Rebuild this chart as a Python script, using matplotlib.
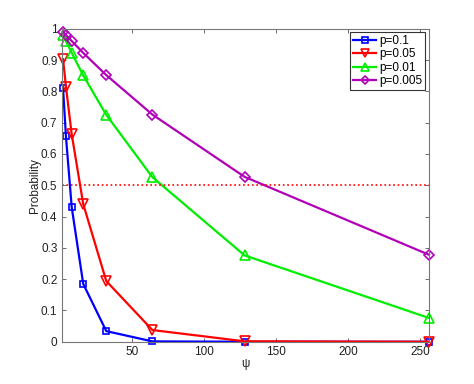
import matplotlib
matplotlib.use("Agg")
import matplotlib.pyplot as plt

psi = [2, 4, 8, 16, 32, 64, 128, 256]
p01 = [0.81, 0.656, 0.430, 0.185, 0.034, 0.0012, 0.0, 0.0]
p005 = [0.9025, 0.815, 0.663, 0.440, 0.194, 0.0375, 0.0014, 0.0]
p001 = [0.980, 0.961, 0.923, 0.851, 0.725, 0.526, 0.276, 0.076]
p0005 = [0.990, 0.980, 0.961, 0.923, 0.852, 0.726, 0.527, 0.278]
labels = ["p=0.1", "p=0.05", "p=0.01", "p=0.005"]
threshold = 0.5
yticks = [0, 0.1, 0.2, 0.3, 0.4, 0.5, 0.6, 0.7, 0.8, 0.9, 1]
yticklabels = ["0", "0.1", "0.2", "0.3", "0.4", "0.5", "0.6", "0.7", "0.8", "0.9", "1"]
xticks = [50, 100, 150, 200, 250]

plt.rcParams['font.family'] = ['Liberation Sans', 'DejaVu Sans']

fig = plt.figure(figsize=(4.74, 3.84), dpi=100)
ax = fig.add_axes([0.13, 0.11, 0.775, 0.815])

series = [p01, p005, p001, p0005]
colors = ['#0000ff', '#ff0000', '#00ee00', '#b000b8']
markers = ['s', 'v', '^', 'D']
msizes = [5, 6.5, 6.5, 5]
for vals, c, m, ms, lab in zip(series, colors, markers, msizes, labels):
    ax.plot(psi, vals, color=c, marker=m, markersize=ms, markerfacecolor='none',
            markeredgecolor=c, markeredgewidth=1.2, linewidth=1.6, label=lab, clip_on=False)

ax.axhline(threshold, color='#ff0000', linestyle=':', linewidth=1.2)

ax.set_xlim(1, 256)
ax.set_ylim(0, 1)
ax.set_xticks(xticks)
ax.set_yticks(yticks)
ax.set_yticklabels(yticklabels)
ax.tick_params(direction='in', top=True, right=True, labelsize=8.5, length=3, width=0.6,
               colors='#555555', labelcolor='#222222', pad=3)
for s in ax.spines.values():
    s.set_color('#777777')
    s.set_linewidth(0.8)
ax.set_xlabel('ψ', fontsize=8.5, color='#222222', labelpad=0)
ax.set_ylabel('Probability', fontsize=8.5, color='#222222', labelpad=0)

leg = ax.legend(loc='upper right', fontsize=8.5, frameon=True, fancybox=False,
                borderpad=0.25, labelspacing=0.1, handlelength=1.9, handletextpad=0.3,
                borderaxespad=0.3, markerscale=0.85)
leg.get_frame().set_edgecolor('#000000')
leg.get_frame().set_linewidth(0.8)

fig.savefig('out.png', dpi=100)
